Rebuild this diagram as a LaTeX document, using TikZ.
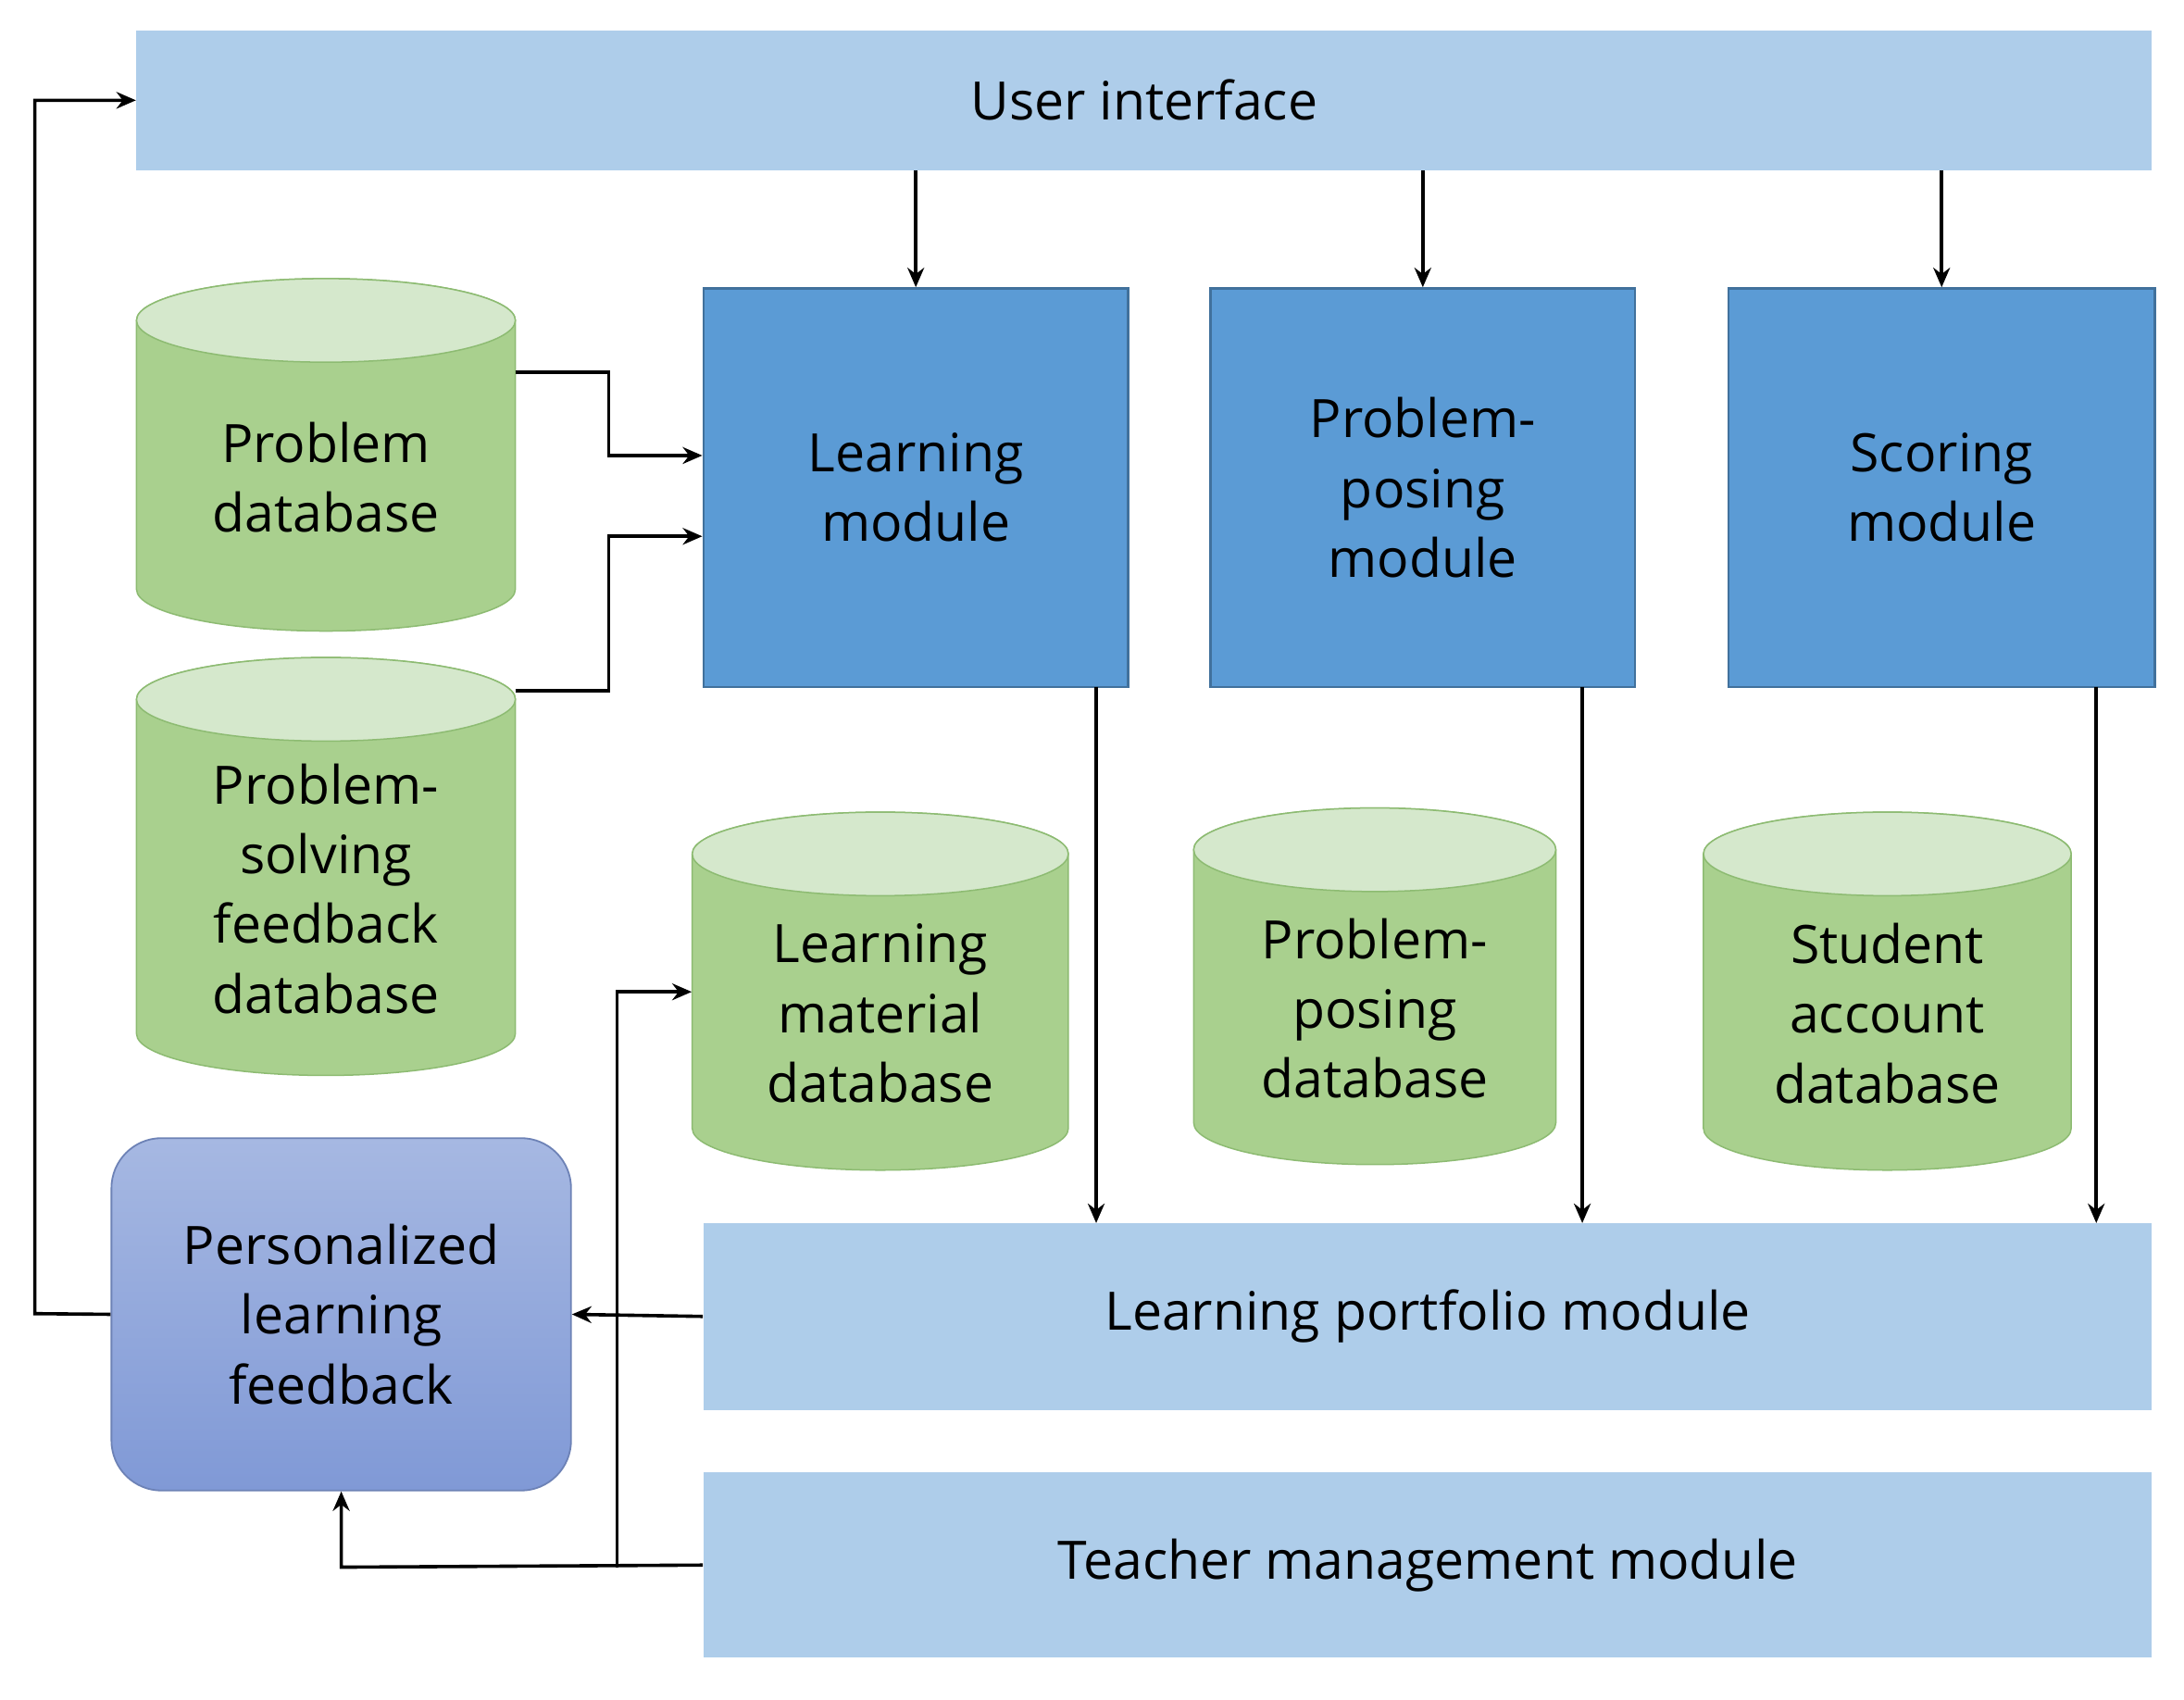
\documentclass[tikz,border=0pt]{standalone}
\usepackage{fontspec}
\setmainfont{Open Sans}
\usetikzlibrary{arrows.meta}
\definecolor{barblue}{HTML}{AECDEA}
\definecolor{modblue}{HTML}{5B9BD5}
\definecolor{modedge}{HTML}{41719C}
\definecolor{cylbody}{HTML}{A9D08E}
\definecolor{cyltop}{HTML}{D5E8CC}
\definecolor{cyledge}{HTML}{8DBB72}
\definecolor{pltop}{HTML}{A6B8E2}
\definecolor{plbot}{HTML}{8099D6}
\tikzset{
 txt/.style={font=\fontsize{19}{25}\selectfont, align=center, text=black},
 bar/.style={txt, fill=barblue, draw=none, inner sep=0},
 mod/.style={txt, fill=modblue, draw=modedge, line width=0.8pt, inner sep=0},
 arr/.style={-{Stealth[length=7pt,width=6pt]}, line width=1.2pt, black},
}
\newcommand{\cyl}[6]{% name,x1,y1,x2,y2,text
 \pgfmathsetmacro{\rx}{(#4-#2)/4}
 \fill[cylbody, draw=cyledge, line width=0.5pt] (#2,#3+30) -- (#2,#5-30) arc[start angle=180,end angle=360,x radius=\rx pt,y radius=15pt] -- (#4,#3+30) arc[start angle=0,end angle=180,x radius=\rx pt,y radius=15pt] -- cycle;
 \fill[cyltop, draw=cyledge, line width=0.5pt] ({(#2+#4)/2},#3+30) ellipse[x radius=\rx pt,y radius=15pt];
 \node[txt, minimum width={(#4-#2)*0.5pt}, minimum height={(#5-#3)*0.5pt}, inner sep=0] (#1) at ({(#2+#4)/2},{(#3+#5)/2+16}) {#6};
}
\begin{document}
\begin{tikzpicture}[x=0.5pt,y=-0.5pt]
\useasboundingbox (0,0) rectangle (1568,1220);
\node[bar, minimum width=723.5pt, minimum height=50pt] (ui) at (821.5,72) {User interface};
\node[mod, minimum width=152.5pt, minimum height=143pt] (lm) at (657.5,350) {Learning\\module};
\node[mod, minimum width=152.5pt, minimum height=143pt] (pm) at (1021.5,350) {Problem-\\posing\\module};
\node[mod, minimum width=153pt, minimum height=143pt] (sm) at (1394,350) {Scoring\\module};
\node[bar, minimum width=520pt, minimum height=67pt] (lp) at (1025,945) {Learning portfolio module};
\node[bar, minimum width=520pt, minimum height=66.5pt] (tm) at (1025,1123.5) {Teacher management module};
\node[txt, rounded corners=18pt, top color=pltop, bottom color=plbot, draw=plbot!85!black, line width=0.6pt, minimum width=165pt, minimum height=126.5pt, inner sep=0] (pl) at (245,943.5) {Personalized\\learning\\feedback};
\cyl{pdb}{98}{200}{370}{453}{Problem\\database}
\cyl{psf}{98}{472}{370}{772}{Problem-\\solving\\feedback\\database}
\cyl{lmd}{497}{583}{767}{840}{Learning\\material\\database}
\cyl{ppd}{857}{580}{1117}{836}{Problem-\\posing\\database}
\cyl{sad}{1223}{583}{1487}{840}{Student\\account\\database}
% UI to modules
\draw[arr] (ui.south -| lm) -- (lm.north);
\draw[arr] (ui.south -| pm) -- (pm.north);
\draw[arr] (ui.south -| sm) -- (sm.north);
% databases to learning module
\draw[arr] (370,267) -- (437,267) -- (437,327) -- (lm.west |- 0,327);
\draw[arr] (370,496) -- (437,496) -- (437,385) -- (lm.west |- 0,385);
% modules to portfolio
\draw[arr] (787,493) -- (787,878);
\draw[arr] (1136,493) -- (1136,878);
\draw[arr] (1505,493) -- (1505,878);
% portfolio to feedback
\draw[arr] (lp.west) -- (pl.east);
% teacher
\draw[arr] (tm.west) -- (245,1125) -- (pl.south);
\draw[arr] (443,1125) -- (443,712) -- (lmd.west |- 0,712);
% feedback to UI
\draw[arr] (pl.west) -- (25,943) -- (25,72) -- (ui.west);
\end{tikzpicture}
\end{document}
